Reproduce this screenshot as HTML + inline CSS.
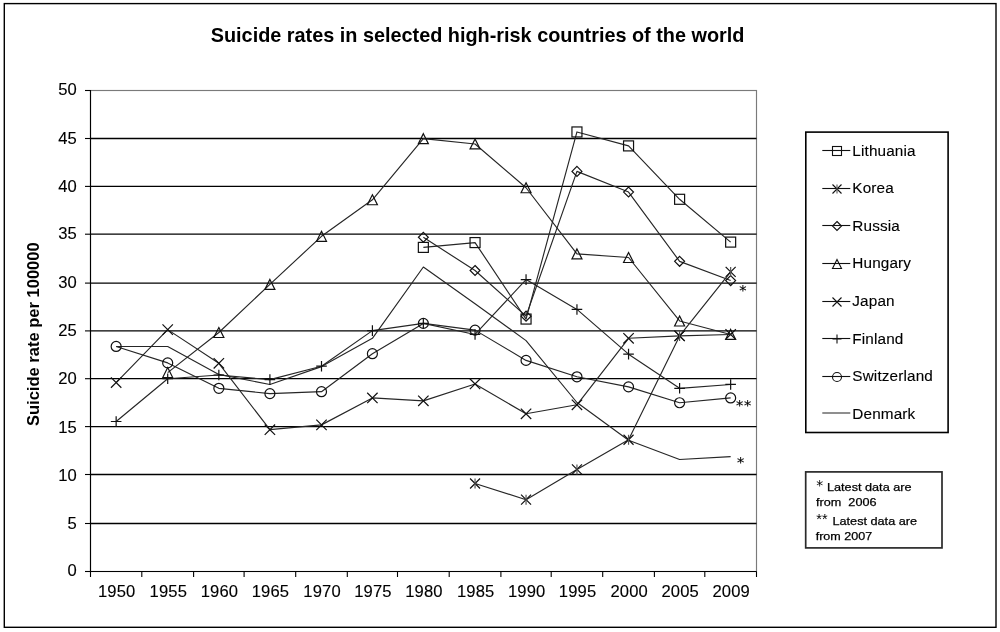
<!DOCTYPE html>
<html><head><meta charset="utf-8"><title>Suicide rates in selected high-risk countries of the world</title>
<style>
html,body{margin:0;padding:0;background:#fff;}
body{width:1000px;height:632px;overflow:hidden;}
svg{display:block;font-family:"Liberation Sans",Arial,sans-serif;}
svg text{fill:#000;}
.t{stroke:#000;stroke-width:0.12px;}
</style></head><body>
<svg width="1000" height="632" viewBox="0 0 1000 632">
<rect x="0" y="0" width="1000" height="632" fill="#fff"/>
<rect x="4.3" y="3.6" width="991.7" height="623.7" fill="none" stroke="#000" stroke-width="1.4"/>
<text x="477.6" y="41.6" text-anchor="middle" font-weight="bold" font-size="19.85">Suicide rates in selected high-risk countries of the world</text>
<rect x="90.5" y="90.5" width="666.0" height="481.0" fill="none" stroke="#7a7a7a" stroke-width="1.15"/>
<line x1="90.5" y1="523.50" x2="756.5" y2="523.50" stroke="#000" stroke-width="1.3"/>
<line x1="90.5" y1="474.50" x2="756.5" y2="474.50" stroke="#000" stroke-width="1.3"/>
<line x1="90.5" y1="426.60" x2="756.5" y2="426.60" stroke="#000" stroke-width="1.3"/>
<line x1="90.5" y1="378.70" x2="756.5" y2="378.70" stroke="#000" stroke-width="1.3"/>
<line x1="90.5" y1="330.90" x2="756.5" y2="330.90" stroke="#000" stroke-width="1.3"/>
<line x1="90.5" y1="283.10" x2="756.5" y2="283.10" stroke="#000" stroke-width="1.3"/>
<line x1="90.5" y1="234.20" x2="756.5" y2="234.20" stroke="#000" stroke-width="1.3"/>
<line x1="90.5" y1="186.40" x2="756.5" y2="186.40" stroke="#000" stroke-width="1.3"/>
<line x1="90.5" y1="138.50" x2="756.5" y2="138.50" stroke="#000" stroke-width="1.3"/>
<line x1="90.5" y1="90.0" x2="90.5" y2="572.0" stroke="#000" stroke-width="1.1"/>
<line x1="85.0" y1="571.50" x2="90.5" y2="571.50" stroke="#000" stroke-width="1.1"/>
<text x="77" y="576.40" text-anchor="end" font-size="16.6" letter-spacing="0.15" class="t">0</text>
<line x1="85.0" y1="523.50" x2="90.5" y2="523.50" stroke="#000" stroke-width="1.1"/>
<text x="77" y="528.90" text-anchor="end" font-size="16.6" letter-spacing="0.15" class="t">5</text>
<line x1="85.0" y1="474.50" x2="90.5" y2="474.50" stroke="#000" stroke-width="1.1"/>
<text x="77" y="480.70" text-anchor="end" font-size="16.6" letter-spacing="0.15" class="t">10</text>
<line x1="85.0" y1="426.60" x2="90.5" y2="426.60" stroke="#000" stroke-width="1.1"/>
<text x="77" y="432.60" text-anchor="end" font-size="16.6" letter-spacing="0.15" class="t">15</text>
<line x1="85.0" y1="378.70" x2="90.5" y2="378.70" stroke="#000" stroke-width="1.1"/>
<text x="77" y="384.40" text-anchor="end" font-size="16.6" letter-spacing="0.15" class="t">20</text>
<line x1="85.0" y1="330.90" x2="90.5" y2="330.90" stroke="#000" stroke-width="1.1"/>
<text x="77" y="336.20" text-anchor="end" font-size="16.6" letter-spacing="0.15" class="t">25</text>
<line x1="85.0" y1="283.10" x2="90.5" y2="283.10" stroke="#000" stroke-width="1.1"/>
<text x="77" y="288.00" text-anchor="end" font-size="16.6" letter-spacing="0.15" class="t">30</text>
<line x1="85.0" y1="234.20" x2="90.5" y2="234.20" stroke="#000" stroke-width="1.1"/>
<text x="77" y="239.40" text-anchor="end" font-size="16.6" letter-spacing="0.15" class="t">35</text>
<line x1="85.0" y1="186.40" x2="90.5" y2="186.40" stroke="#000" stroke-width="1.1"/>
<text x="77" y="191.80" text-anchor="end" font-size="16.6" letter-spacing="0.15" class="t">40</text>
<line x1="85.0" y1="138.50" x2="90.5" y2="138.50" stroke="#000" stroke-width="1.1"/>
<text x="77" y="143.70" text-anchor="end" font-size="16.6" letter-spacing="0.15" class="t">45</text>
<line x1="85.0" y1="90.50" x2="90.5" y2="90.50" stroke="#000" stroke-width="1.1"/>
<text x="77" y="94.50" text-anchor="end" font-size="16.6" letter-spacing="0.15" class="t">50</text>
<line x1="90.5" y1="571.5" x2="756.5" y2="571.5" stroke="#000" stroke-width="1.1"/>
<line x1="90.50" y1="571.5" x2="90.50" y2="577.0" stroke="#000" stroke-width="1.1"/>
<line x1="141.80" y1="571.5" x2="141.80" y2="577.0" stroke="#000" stroke-width="1.1"/>
<line x1="193.60" y1="571.5" x2="193.60" y2="577.0" stroke="#000" stroke-width="1.1"/>
<line x1="244.10" y1="571.5" x2="244.10" y2="577.0" stroke="#000" stroke-width="1.1"/>
<line x1="295.70" y1="571.5" x2="295.70" y2="577.0" stroke="#000" stroke-width="1.1"/>
<line x1="347.30" y1="571.5" x2="347.30" y2="577.0" stroke="#000" stroke-width="1.1"/>
<line x1="397.50" y1="571.5" x2="397.50" y2="577.0" stroke="#000" stroke-width="1.1"/>
<line x1="449.20" y1="571.5" x2="449.20" y2="577.0" stroke="#000" stroke-width="1.1"/>
<line x1="500.90" y1="571.5" x2="500.90" y2="577.0" stroke="#000" stroke-width="1.1"/>
<line x1="551.20" y1="571.5" x2="551.20" y2="577.0" stroke="#000" stroke-width="1.1"/>
<line x1="602.70" y1="571.5" x2="602.70" y2="577.0" stroke="#000" stroke-width="1.1"/>
<line x1="654.40" y1="571.5" x2="654.40" y2="577.0" stroke="#000" stroke-width="1.1"/>
<line x1="704.80" y1="571.5" x2="704.80" y2="577.0" stroke="#000" stroke-width="1.1"/>
<line x1="756.50" y1="571.5" x2="756.50" y2="577.0" stroke="#000" stroke-width="1.1"/>
<text x="116.75" y="596.6" text-anchor="middle" font-size="16.6" letter-spacing="0.15" class="t">1950</text>
<text x="168.30" y="596.6" text-anchor="middle" font-size="16.6" letter-spacing="0.15" class="t">1955</text>
<text x="219.45" y="596.6" text-anchor="middle" font-size="16.6" letter-spacing="0.15" class="t">1960</text>
<text x="270.50" y="596.6" text-anchor="middle" font-size="16.6" letter-spacing="0.15" class="t">1965</text>
<text x="322.10" y="596.6" text-anchor="middle" font-size="16.6" letter-spacing="0.15" class="t">1970</text>
<text x="373.00" y="596.6" text-anchor="middle" font-size="16.6" letter-spacing="0.15" class="t">1975</text>
<text x="423.95" y="596.6" text-anchor="middle" font-size="16.6" letter-spacing="0.15" class="t">1980</text>
<text x="475.65" y="596.6" text-anchor="middle" font-size="16.6" letter-spacing="0.15" class="t">1985</text>
<text x="526.65" y="596.6" text-anchor="middle" font-size="16.6" letter-spacing="0.15" class="t">1990</text>
<text x="577.55" y="596.6" text-anchor="middle" font-size="16.6" letter-spacing="0.15" class="t">1995</text>
<text x="629.15" y="596.6" text-anchor="middle" font-size="16.6" letter-spacing="0.15" class="t">2000</text>
<text x="680.20" y="596.6" text-anchor="middle" font-size="16.6" letter-spacing="0.15" class="t">2005</text>
<text x="731.25" y="596.6" text-anchor="middle" font-size="16.6" letter-spacing="0.15" class="t">2009</text>
<text transform="translate(39 334.2) rotate(-90)" text-anchor="middle" font-weight="bold" font-size="16.55">Suicide rate per 100000</text>
<path d="M116.15 346.47L167.70 346.47L218.85 374.40L269.90 384.47L321.50 366.60L372.40 338.30L423.35 267.00L475.05 303.66L526.05 340.60L576.95 402.50L628.55 440.27L679.60 459.51L730.65 456.62" fill="none" stroke="#262626" stroke-width="1.15" stroke-linejoin="round"/>
<path d="M116.15 346.47L167.70 362.90L218.85 388.32L269.90 393.60L321.50 391.69L372.40 353.69L423.35 323.39L475.05 330.12L526.05 360.40L576.95 376.78L628.55 386.88L679.60 402.75L730.65 397.94" fill="none" stroke="#262626" stroke-width="1.15" stroke-linejoin="round"/>
<circle cx="116.15" cy="346.47" r="5.00" fill="none" stroke="#111" stroke-width="1.2"/>
<circle cx="167.70" cy="362.90" r="5.00" fill="none" stroke="#111" stroke-width="1.2"/>
<circle cx="218.85" cy="388.32" r="5.00" fill="none" stroke="#111" stroke-width="1.2"/>
<circle cx="269.90" cy="393.60" r="5.00" fill="none" stroke="#111" stroke-width="1.2"/>
<circle cx="321.50" cy="391.69" r="5.00" fill="none" stroke="#111" stroke-width="1.2"/>
<circle cx="372.40" cy="353.69" r="5.00" fill="none" stroke="#111" stroke-width="1.2"/>
<circle cx="423.35" cy="323.39" r="5.00" fill="none" stroke="#111" stroke-width="1.2"/>
<circle cx="475.05" cy="330.12" r="5.00" fill="none" stroke="#111" stroke-width="1.2"/>
<circle cx="526.05" cy="360.40" r="5.00" fill="none" stroke="#111" stroke-width="1.2"/>
<circle cx="576.95" cy="376.78" r="5.00" fill="none" stroke="#111" stroke-width="1.2"/>
<circle cx="628.55" cy="386.88" r="5.00" fill="none" stroke="#111" stroke-width="1.2"/>
<circle cx="679.60" cy="402.75" r="5.00" fill="none" stroke="#111" stroke-width="1.2"/>
<circle cx="730.65" cy="397.94" r="5.00" fill="none" stroke="#111" stroke-width="1.2"/>
<path d="M116.15 421.51L167.70 378.70L218.85 375.00L269.90 379.66L321.50 366.19L372.40 330.60L423.35 323.39L475.05 334.45L526.05 279.61L576.95 309.44L628.55 354.17L679.60 388.32L730.65 384.47" fill="none" stroke="#262626" stroke-width="1.15" stroke-linejoin="round"/>
<path d="M110.85 421.51L121.45 421.51M116.15 416.21L116.15 426.81" fill="none" stroke="#111" stroke-width="1.2"/>
<path d="M162.40 378.70L173.00 378.70M167.70 373.40L167.70 384.00" fill="none" stroke="#111" stroke-width="1.2"/>
<path d="M213.55 375.00L224.15 375.00M218.85 369.70L218.85 380.30" fill="none" stroke="#111" stroke-width="1.2"/>
<path d="M264.60 379.66L275.20 379.66M269.90 374.36L269.90 384.96" fill="none" stroke="#111" stroke-width="1.2"/>
<path d="M316.20 366.19L326.80 366.19M321.50 360.89L321.50 371.49" fill="none" stroke="#111" stroke-width="1.2"/>
<path d="M367.10 330.60L377.70 330.60M372.40 325.30L372.40 335.90" fill="none" stroke="#111" stroke-width="1.2"/>
<path d="M418.05 323.39L428.65 323.39M423.35 318.09L423.35 328.69" fill="none" stroke="#111" stroke-width="1.2"/>
<path d="M469.75 334.45L480.35 334.45M475.05 329.15L475.05 339.75" fill="none" stroke="#111" stroke-width="1.2"/>
<path d="M520.75 279.61L531.35 279.61M526.05 274.31L526.05 284.91" fill="none" stroke="#111" stroke-width="1.2"/>
<path d="M571.65 309.44L582.25 309.44M576.95 304.14L576.95 314.74" fill="none" stroke="#111" stroke-width="1.2"/>
<path d="M623.25 354.17L633.85 354.17M628.55 348.87L628.55 359.47" fill="none" stroke="#111" stroke-width="1.2"/>
<path d="M674.30 388.32L684.90 388.32M679.60 383.02L679.60 393.62" fill="none" stroke="#111" stroke-width="1.2"/>
<path d="M725.35 384.47L735.95 384.47M730.65 379.17L730.65 389.77" fill="none" stroke="#111" stroke-width="1.2"/>
<path d="M116.15 382.55L167.70 329.64L218.85 363.31L269.90 429.69L321.50 424.88L372.40 397.94L423.35 400.83L475.05 383.99L526.05 413.80L576.95 404.80L628.55 338.30L679.60 335.89L730.65 334.45" fill="none" stroke="#262626" stroke-width="1.15" stroke-linejoin="round"/>
<path d="M110.95 377.35L121.35 387.75M121.35 377.35L110.95 387.75" fill="none" stroke="#111" stroke-width="1.2"/>
<path d="M162.50 324.44L172.90 334.84M172.90 324.44L162.50 334.84" fill="none" stroke="#111" stroke-width="1.2"/>
<path d="M213.65 358.11L224.05 368.51M224.05 358.11L213.65 368.51" fill="none" stroke="#111" stroke-width="1.2"/>
<path d="M264.70 424.49L275.10 434.89M275.10 424.49L264.70 434.89" fill="none" stroke="#111" stroke-width="1.2"/>
<path d="M316.30 419.68L326.70 430.08M326.70 419.68L316.30 430.08" fill="none" stroke="#111" stroke-width="1.2"/>
<path d="M367.20 392.74L377.60 403.14M377.60 392.74L367.20 403.14" fill="none" stroke="#111" stroke-width="1.2"/>
<path d="M418.15 395.63L428.55 406.03M428.55 395.63L418.15 406.03" fill="none" stroke="#111" stroke-width="1.2"/>
<path d="M469.85 378.79L480.25 389.19M480.25 378.79L469.85 389.19" fill="none" stroke="#111" stroke-width="1.2"/>
<path d="M520.85 408.60L531.25 419.00M531.25 408.60L520.85 419.00" fill="none" stroke="#111" stroke-width="1.2"/>
<path d="M571.75 399.60L582.15 410.00M582.15 399.60L571.75 410.00" fill="none" stroke="#111" stroke-width="1.2"/>
<path d="M623.35 333.10L633.75 343.50M633.75 333.10L623.35 343.50" fill="none" stroke="#111" stroke-width="1.2"/>
<path d="M674.40 330.69L684.80 341.09M684.80 330.69L674.40 341.09" fill="none" stroke="#111" stroke-width="1.2"/>
<path d="M725.45 329.25L735.85 339.65M735.85 329.25L725.45 339.65" fill="none" stroke="#111" stroke-width="1.2"/>
<path d="M167.70 372.60L218.85 332.52L269.90 284.42L321.50 236.32L372.40 199.77L423.35 138.68L475.05 143.97L526.05 187.74L576.95 253.93L628.55 257.49L679.60 320.98L730.65 334.45" fill="none" stroke="#262626" stroke-width="1.15" stroke-linejoin="round"/>
<path d="M167.70 367.60L172.70 377.60L162.70 377.60Z" fill="none" stroke="#111" stroke-width="1.2"/>
<path d="M218.85 327.52L223.85 337.52L213.85 337.52Z" fill="none" stroke="#111" stroke-width="1.2"/>
<path d="M269.90 279.42L274.90 289.42L264.90 289.42Z" fill="none" stroke="#111" stroke-width="1.2"/>
<path d="M321.50 231.32L326.50 241.32L316.50 241.32Z" fill="none" stroke="#111" stroke-width="1.2"/>
<path d="M372.40 194.77L377.40 204.77L367.40 204.77Z" fill="none" stroke="#111" stroke-width="1.2"/>
<path d="M423.35 133.68L428.35 143.68L418.35 143.68Z" fill="none" stroke="#111" stroke-width="1.2"/>
<path d="M475.05 138.97L480.05 148.97L470.05 148.97Z" fill="none" stroke="#111" stroke-width="1.2"/>
<path d="M526.05 182.74L531.05 192.74L521.05 192.74Z" fill="none" stroke="#111" stroke-width="1.2"/>
<path d="M576.95 248.93L581.95 258.93L571.95 258.93Z" fill="none" stroke="#111" stroke-width="1.2"/>
<path d="M628.55 252.49L633.55 262.49L623.55 262.49Z" fill="none" stroke="#111" stroke-width="1.2"/>
<path d="M679.60 315.98L684.60 325.98L674.60 325.98Z" fill="none" stroke="#111" stroke-width="1.2"/>
<path d="M730.65 329.45L735.65 339.45L725.65 339.45Z" fill="none" stroke="#111" stroke-width="1.2"/>
<path d="M423.35 237.29L475.05 270.48L526.05 316.17L576.95 171.39L628.55 192.07L679.60 261.34L730.65 280.58" fill="none" stroke="#262626" stroke-width="1.15" stroke-linejoin="round"/>
<path d="M423.35 232.34L428.30 237.29L423.35 242.24L418.40 237.29Z" fill="none" stroke="#111" stroke-width="1.2"/>
<path d="M475.05 265.53L480.00 270.48L475.05 275.43L470.10 270.48Z" fill="none" stroke="#111" stroke-width="1.2"/>
<path d="M526.05 311.22L531.00 316.17L526.05 321.12L521.10 316.17Z" fill="none" stroke="#111" stroke-width="1.2"/>
<path d="M576.95 166.44L581.90 171.39L576.95 176.34L572.00 171.39Z" fill="none" stroke="#111" stroke-width="1.2"/>
<path d="M628.55 187.12L633.50 192.07L628.55 197.02L623.60 192.07Z" fill="none" stroke="#111" stroke-width="1.2"/>
<path d="M679.60 256.39L684.55 261.34L679.60 266.29L674.65 261.34Z" fill="none" stroke="#111" stroke-width="1.2"/>
<path d="M730.65 275.63L735.60 280.58L730.65 285.53L725.70 280.58Z" fill="none" stroke="#111" stroke-width="1.2"/>
<path d="M475.05 483.50L526.05 499.70L576.95 469.40L628.55 439.79L679.60 335.89L730.65 271.92" fill="none" stroke="#262626" stroke-width="1.15" stroke-linejoin="round"/>
<path d="M470.05 478.50L480.05 488.50M480.05 478.50L470.05 488.50" fill="none" stroke="#111" stroke-width="1.2"/><path d="M475.05 478.50L475.05 488.50" fill="none" stroke="#555" stroke-width="1.2"/>
<path d="M521.05 494.70L531.05 504.70M531.05 494.70L521.05 504.70" fill="none" stroke="#111" stroke-width="1.2"/><path d="M526.05 494.70L526.05 504.70" fill="none" stroke="#555" stroke-width="1.2"/>
<path d="M571.95 464.40L581.95 474.40M581.95 464.40L571.95 474.40" fill="none" stroke="#111" stroke-width="1.2"/><path d="M576.95 464.40L576.95 474.40" fill="none" stroke="#555" stroke-width="1.2"/>
<path d="M623.55 434.79L633.55 444.79M633.55 434.79L623.55 444.79" fill="none" stroke="#111" stroke-width="1.2"/><path d="M628.55 434.79L628.55 444.79" fill="none" stroke="#555" stroke-width="1.2"/>
<path d="M674.60 330.89L684.60 340.89M684.60 330.89L674.60 340.89" fill="none" stroke="#111" stroke-width="1.2"/><path d="M679.60 330.89L679.60 340.89" fill="none" stroke="#555" stroke-width="1.2"/>
<path d="M725.65 266.92L735.65 276.92M735.65 266.92L725.65 276.92" fill="none" stroke="#111" stroke-width="1.2"/><path d="M730.65 266.92L730.65 276.92" fill="none" stroke="#555" stroke-width="1.2"/>
<path d="M423.35 247.39L475.05 242.58L526.05 319.06L576.95 131.95L628.55 145.90L679.60 199.29L730.65 242.10" fill="none" stroke="#262626" stroke-width="1.15" stroke-linejoin="round"/>
<rect x="418.35" y="242.39" width="10.00" height="10.00" fill="none" stroke="#111" stroke-width="1.2"/>
<rect x="470.05" y="237.58" width="10.00" height="10.00" fill="none" stroke="#111" stroke-width="1.2"/>
<rect x="521.05" y="314.06" width="10.00" height="10.00" fill="none" stroke="#111" stroke-width="1.2"/>
<rect x="571.95" y="126.95" width="10.00" height="10.00" fill="none" stroke="#111" stroke-width="1.2"/>
<rect x="623.55" y="140.90" width="10.00" height="10.00" fill="none" stroke="#111" stroke-width="1.2"/>
<rect x="674.60" y="194.29" width="10.00" height="10.00" fill="none" stroke="#111" stroke-width="1.2"/>
<rect x="725.65" y="237.10" width="10.00" height="10.00" fill="none" stroke="#111" stroke-width="1.2"/>
<text x="739.2" y="294.9" font-family="DejaVu Sans" font-size="14.5" stroke="#000" stroke-width="0.12">*</text>
<text x="736.0" y="410.1" font-family="DejaVu Sans" font-size="14.5" stroke="#000" stroke-width="0.12">*</text>
<text x="743.9" y="410.1" font-family="DejaVu Sans" font-size="14.5" stroke="#000" stroke-width="0.12">*</text>
<text x="737.0" y="467.3" font-family="DejaVu Sans" font-size="14.5" stroke="#000" stroke-width="0.12">*</text>
<rect x="805.8" y="132.1" width="142.3" height="300.4" fill="none" stroke="#000" stroke-width="1.6"/>
<line x1="822.3" y1="150.50" x2="850.3" y2="150.50" stroke="#111" stroke-width="1.1"/>
<rect x="832.50" y="146.50" width="9.00" height="9.00" fill="none" stroke="#111" stroke-width="1.1"/>
<text x="852.3" y="155.80" font-size="15.3" letter-spacing="0.15" class="t">Lithuania</text>
<line x1="822.3" y1="188.50" x2="850.3" y2="188.50" stroke="#111" stroke-width="1.1"/>
<path d="M832.50 184.50L841.50 193.50M841.50 184.50L832.50 193.50" fill="none" stroke="#111" stroke-width="1.1"/><path d="M837.00 184.50L837.00 193.50" fill="none" stroke="#555" stroke-width="1.1"/>
<text x="852.3" y="192.80" font-size="15.3" letter-spacing="0.15" class="t">Korea</text>
<line x1="822.3" y1="225.50" x2="850.3" y2="225.50" stroke="#111" stroke-width="1.1"/>
<path d="M837.00 221.50L841.50 226.00L837.00 230.50L832.50 226.00Z" fill="none" stroke="#111" stroke-width="1.1"/>
<text x="852.3" y="230.80" font-size="15.3" letter-spacing="0.15" class="t">Russia</text>
<line x1="822.3" y1="263.50" x2="850.3" y2="263.50" stroke="#111" stroke-width="1.1"/>
<path d="M837.00 259.50L841.50 268.50L832.50 268.50Z" fill="none" stroke="#111" stroke-width="1.1"/>
<text x="852.3" y="267.80" font-size="15.3" letter-spacing="0.15" class="t">Hungary</text>
<line x1="822.3" y1="301.50" x2="850.3" y2="301.50" stroke="#111" stroke-width="1.1"/>
<path d="M832.50 297.50L841.50 306.50M841.50 297.50L832.50 306.50" fill="none" stroke="#111" stroke-width="1.1"/>
<text x="852.3" y="305.80" font-size="15.3" letter-spacing="0.15" class="t">Japan</text>
<line x1="822.3" y1="338.50" x2="850.3" y2="338.50" stroke="#111" stroke-width="1.1"/>
<path d="M832.50 339.00L841.50 339.00M837.00 334.50L837.00 343.50" fill="none" stroke="#111" stroke-width="1.1"/>
<text x="852.3" y="343.80" font-size="15.3" letter-spacing="0.15" class="t">Finland</text>
<line x1="822.3" y1="376.50" x2="850.3" y2="376.50" stroke="#111" stroke-width="1.1"/>
<circle cx="837.00" cy="377.00" r="4.50" fill="none" stroke="#111" stroke-width="1.1"/>
<text x="852.3" y="380.80" font-size="15.3" letter-spacing="0.15" class="t">Switzerland</text>
<line x1="822.3" y1="413.00" x2="850.3" y2="413.00" stroke="#333" stroke-width="1.1"/>
<text x="852.3" y="418.80" font-size="15.3" letter-spacing="0.15" class="t">Denmark</text>
<rect x="805.7" y="471.9" width="136.3" height="76" fill="none" stroke="#2a2a2a" stroke-width="1.7"/>
<text x="816.3" y="489.6" font-family="DejaVu Sans" font-size="13.8">*</text>
<text x="827.0" y="490.9" font-size="11.2" stroke="#000" stroke-width="0.25" textLength="84.5" lengthAdjust="spacingAndGlyphs">Latest data are</text>
<text x="816.0" y="506.1" font-size="11.2" stroke="#000" stroke-width="0.25" textLength="60.5" lengthAdjust="spacingAndGlyphs">from&#160; 2006</text>
<text x="816.3" y="523.7" font-size="14.5">**</text>
<text x="832.5" y="525.2" font-size="11.2" stroke="#000" stroke-width="0.25" textLength="84.5" lengthAdjust="spacingAndGlyphs">Latest data are</text>
<text x="815.7" y="539.9" font-size="11.2" stroke="#000" stroke-width="0.25" textLength="56.5" lengthAdjust="spacingAndGlyphs">from 2007</text>
</svg>
</body></html>
